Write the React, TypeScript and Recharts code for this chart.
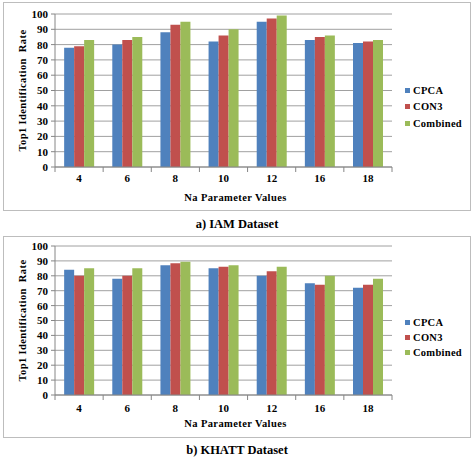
import React from 'react';
import { BarChart, Bar, XAxis, YAxis, CartesianGrid, Legend } from 'recharts';

const categories = ['4', '6', '8', '10', '12', '16', '18'];
const seriesNames = ['CPCA', 'CON3', 'Combined'];
const iamCPCA = [78, 80, 88, 82, 95, 83, 81];
const iamCON3 = [79, 83, 93, 86, 97, 85, 82];
const iamCombined = [83, 85, 95, 90, 99, 86, 83];
const khattCPCA = [84, 78, 87, 85, 80, 75, 72];
const khattCON3 = [80, 80, 88.5, 86, 83, 74, 74];
const khattCombined = [85, 85, 89.5, 87, 86, 80, 78];
const yTicks = [0, 10, 20, 30, 40, 50, 60, 70, 80, 90, 100];
const colors = ['#4F81BD', '#C0504D', '#9BBB59'];

const FONT = 'Liberation Serif, DejaVu Serif, serif';

const buildData = (a: number[], b: number[], c: number[]) =>
  categories.map((cat, i) => ({ cat, CPCA: a[i], CON3: b[i], Combined: c[i] }));

const CHART_W = 466;
const Y_W = 51;
const M_RIGHT = 78;
const LEGEND_W = 70;
const BW = (CHART_W - Y_W - M_RIGHT) / categories.length;

type PanelProps = {
  data: any[];
  top: number;
  boxH: number;
  marginTop: number;
  xAxisH: number;
  tickDy: number;
  titleFromBottom: number;
  legendGap: number;
  caption: string;
  captionY: number;
  captionX: number;
};

const Panel = (p: PanelProps) => {
  const chartH = p.boxH - 2;
  const XTick = (props: any) => {
    const { x, y, payload, index } = props;
    return (
      <g>
        <line x1={x - BW / 2} y1={y} x2={x - BW / 2} y2={y + 5} stroke="#868686" />
        {index === categories.length - 1 && (
          <line x1={x + BW / 2} y1={y} x2={x + BW / 2} y2={y + 5} stroke="#868686" />
        )}
        <text x={x} y={y + p.tickDy} textAnchor="middle" dominantBaseline="central"
          fontFamily={FONT} fontWeight="bold" fontSize={11} fill="#000">
          {payload.value}
        </text>
      </g>
    );
  };
  const LegendContent = () => (
    <div style={{ width: LEGEND_W, paddingLeft: 13, boxSizing: 'border-box', fontFamily: FONT, fontWeight: 'bold', fontSize: 10.5, color: '#000' }}>
      {seriesNames.map((n, i) => (
        <div key={n} style={{ display: 'flex', alignItems: 'center', height: p.legendGap }}>
          <span style={{ display: 'inline-block', width: 5, height: 5, background: colors[i], marginRight: 3 }} />
          <span style={{ letterSpacing: 0.3 }}>{n}</span>
        </div>
      ))}
    </div>
  );
  return (
    <>
      <div style={{ position: 'absolute', left: 3, top: p.top, width: 468, height: p.boxH, border: '1px solid #bdbdbd', boxSizing: 'border-box', background: '#fff' }}>
        <BarChart width={CHART_W} height={chartH} data={p.data}
          margin={{ top: p.marginTop, right: M_RIGHT - LEGEND_W, left: 0, bottom: 0 }}
          barCategoryGap="19%" barGap={0}>
          <CartesianGrid vertical={false} stroke="#a0a0a0" />
          <XAxis dataKey="cat" height={p.xAxisH} tickLine={false} tickSize={0} tickMargin={0}
            stroke="#868686" tick={XTick} interval={0}
            label={{
              content: (lp: any) => {
                const vb = lp.viewBox || {};
                return (
                  <text x={vb.x + vb.width / 2 + 12} y={chartH - p.titleFromBottom} textAnchor="middle" dominantBaseline="central"
                    fontFamily={FONT} fontWeight="bold" fontSize={10.5} fill="#000" letterSpacing={0.4}>
                    Na Parameter Values
                  </text>
                );
              },
            }} />
          <YAxis width={Y_W} domain={[0, 100]} ticks={yTicks} interval={0} tickSize={4} tickMargin={3}
            stroke="#868686" tick={{ fontFamily: FONT, fontWeight: 'bold', fontSize: 11, fill: '#000' }}
            label={{
              content: (lp: any) => {
                const vb = lp.viewBox || {};
                const cy = vb.y + vb.height / 2;
                return (
                  <text x={18} y={cy} transform={`rotate(-90, 18, ${cy})`} textAnchor="middle" dominantBaseline="central"
                    fontFamily={FONT} fontWeight="bold" fontSize={10.5} fill="#000" letterSpacing={0.4}
                    style={{ whiteSpace: 'pre' }}>
                    {'Top1 Identification  Rate'}
                  </text>
                );
              },
            }} />
          <Legend layout="vertical" align="right" verticalAlign="middle" content={LegendContent} />
          {seriesNames.map((n, i) => (
            <Bar key={n} dataKey={n} fill={colors[i]} isAnimationActive={false} />
          ))}
        </BarChart>
      </div>
      <div style={{ position: 'absolute', left: 0, width: 474, top: p.captionY - 9, height: 18, lineHeight: '18px', textAlign: 'center', fontFamily: FONT, fontWeight: 'bold', fontSize: 12.5, color: '#000', paddingLeft: p.captionX, boxSizing: 'border-box' }}>
        {p.caption}
      </div>
    </>
  );
};

export default function App() {
  const iam = buildData(iamCPCA, iamCON3, iamCombined);
  const khatt = buildData(khattCPCA, khattCON3, khattCombined);
  return (
    <div style={{ position: 'absolute', left: 0, top: 0, width: 474, height: 460, background: '#fff', overflow: 'hidden' }}>
      <Panel data={iam} top={2} boxH={209} marginTop={11} xAxisH={43} tickDy={11} titleFromBottom={13}
        legendGap={16.5} caption="a) IAM Dataset" captionY={224} captionX={-22} />
      <Panel data={khatt} top={236} boxH={202} marginTop={9} xAxisH={42} tickDy={13} titleFromBottom={14}
        legendGap={15} caption="b) KHATT Dataset" captionY={450} captionX={-14} />
    </div>
  );
}
